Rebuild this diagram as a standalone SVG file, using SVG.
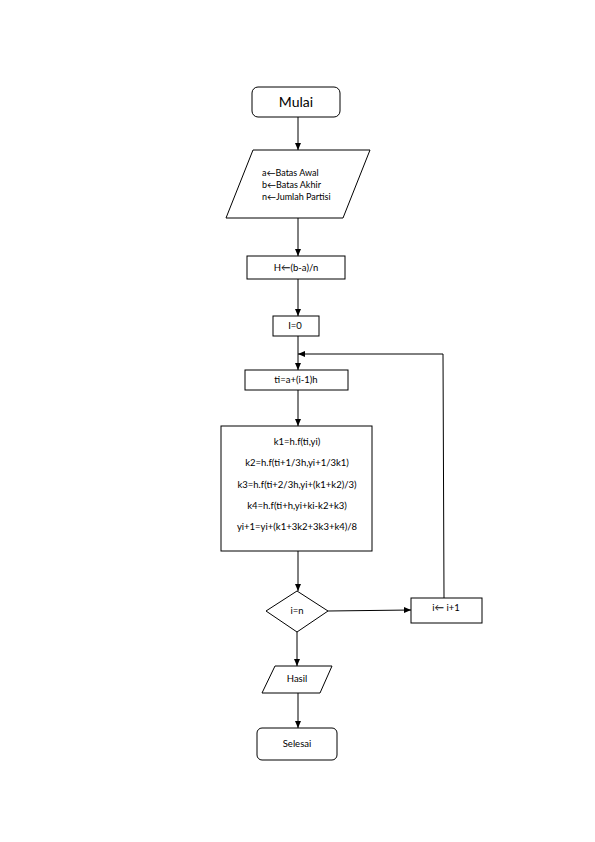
<svg xmlns="http://www.w3.org/2000/svg" width="595" height="842" viewBox="0 0 595 842">
<defs>
<marker id="ah" markerWidth="8" markerHeight="8" refX="7" refY="4" orient="auto" markerUnits="userSpaceOnUse">
<path d="M0,1 L7,4 L0,7 Z" fill="#000"/>
</marker>
<style>
.s{fill:#fff;stroke:#000;stroke-width:1}
.c{fill:none;stroke:#000;stroke-width:1}
.t{font-family:Lato,"Open Sans","Liberation Sans",sans-serif;font-size:9.5px;fill:#000;text-anchor:middle}
.tl{font-family:Lato,"Open Sans","Liberation Sans",sans-serif;font-size:9px;fill:#000}
</style>
</defs>
<rect width="595" height="842" fill="#fff"/>
<g id="connectors">
<line class="c" x1="298" y1="117" x2="298" y2="150" marker-end="url(#ah)"/>
<line class="c" x1="298" y1="218" x2="298" y2="256" marker-end="url(#ah)"/>
<line class="c" x1="298" y1="279" x2="298" y2="316" marker-end="url(#ah)"/>
<line class="c" x1="298" y1="336" x2="298" y2="370" marker-end="url(#ah)"/>
<line class="c" x1="298" y1="390" x2="298" y2="426" marker-end="url(#ah)"/>
<line class="c" x1="298" y1="551" x2="298" y2="591" marker-end="url(#ah)"/>
<line class="c" x1="328" y1="611" x2="411" y2="610" marker-end="url(#ah)"/>
<polyline class="c" points="444,598 443,354 298,354" marker-end="url(#ah)"/>
<line class="c" x1="297" y1="632" x2="297" y2="666" marker-end="url(#ah)"/>
<line class="c" x1="298" y1="693" x2="298" y2="728" marker-end="url(#ah)"/>
</g>
<g id="mulai">
<rect class="s" x="252" y="87" width="88" height="30" rx="6"/>
<text class="t" x="296" y="107" style="font-size:14px">Mulai</text>
</g>
<g id="input">
<polygon class="s" points="253,150 370,150 343,218 226,218"/>
<text class="tl" x="262" y="176">a←Batas Awal</text>
<text class="tl" x="262" y="188">b←Batas Akhir</text>
<text class="tl" x="262" y="200">n←Jumlah Partisi</text>
</g>
<g id="h">
<rect class="s" x="247" y="256" width="98" height="23"/>
<text class="t" x="296" y="271">H←(b-a)/n</text>
</g>
<g id="i0">
<rect class="s" x="273" y="316" width="46" height="20"/>
<text class="t" x="295" y="329">I=0</text>
</g>
<g id="ti">
<rect class="s" x="245" y="370" width="103" height="20"/>
<text class="t" x="296" y="383">ti=a+(i-1)h</text>
</g>
<g id="rk">
<rect class="s" x="221" y="426" width="151" height="125"/>
<text class="t" x="297" y="445">k1=h.f(ti,yi)</text>
<text class="t" x="297" y="466">k2=h.f(ti+1/3h,yi+1/3k1)</text>
<text class="t" x="297" y="488">k3=h.f(ti+2/3h,yi+(k1+k2)/3)</text>
<text class="t" x="297" y="509">k4=h.f(ti+h,yi+ki-k2+k3)</text>
<text class="t" x="297" y="530">yi+1=yi+(k1+3k2+3k3+k4)/8</text>
</g>
<g id="cond">
<polygon class="s" points="297,591 328,611 297,632 266,611"/>
<text class="t" x="297" y="614">i=n</text>
</g>
<g id="inc">
<rect class="s" x="411" y="598" width="71" height="25"/>
<text class="t" x="446" y="611">i← i+1</text>
</g>
<g id="hasil">
<polygon class="s" points="275,666 332,666 320,693 262,693"/>
<text class="t" x="297" y="682">Hasil</text>
</g>
<g id="selesai">
<rect class="s" x="257" y="728" width="80" height="32" rx="5"/>
<text class="t" x="297" y="747">Selesai</text>
</g>
</svg>
